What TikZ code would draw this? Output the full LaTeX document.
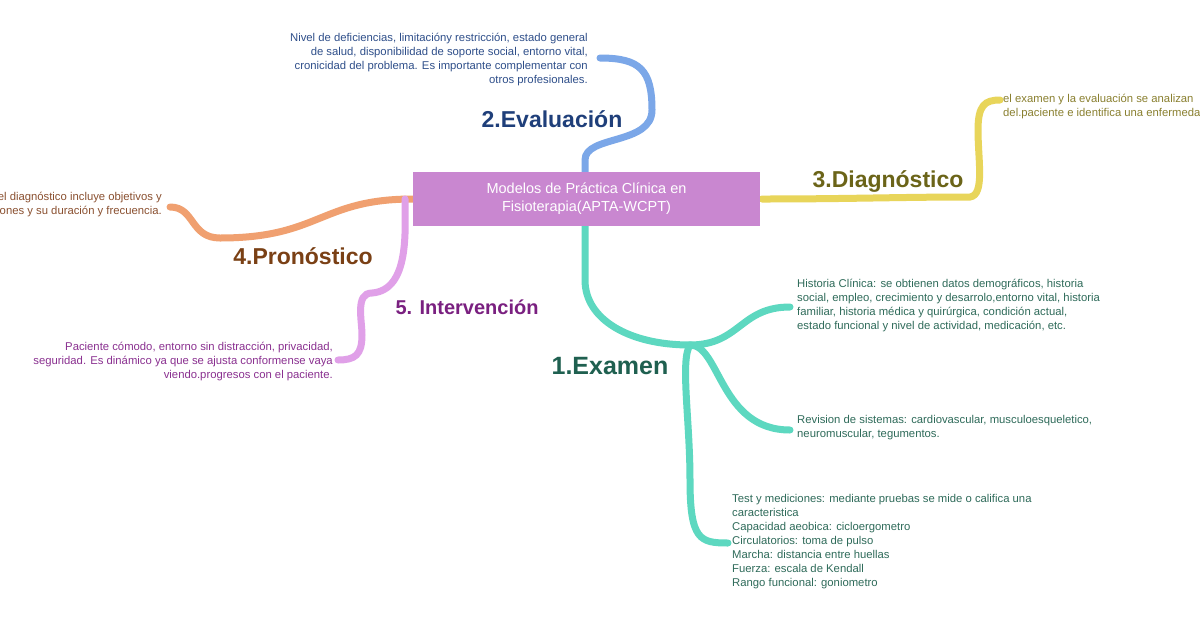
\documentclass[tikz,border=0pt]{standalone}
\usepackage{fontspec}
\setmainfont{Liberation Sans}
\begin{document}
\begin{tikzpicture}[x=1pt,y=-1pt,
  br/.style={line width=7pt,line cap=round},
  small/.style={font=\fontsize{11.3}{14}\selectfont,inner sep=0pt},
  big/.style={font=\fontsize{23}{27}\selectfont\bfseries,inner sep=0pt}]
\definecolor{cbox}{HTML}{C987D0}
\definecolor{cblue}{HTML}{7BA7E8}\definecolor{tblue}{HTML}{1F3F7A}\definecolor{sblue}{HTML}{2F4F8A}
\definecolor{cyel}{HTML}{E8D55A}\definecolor{tyel}{HTML}{6B6418}\definecolor{syel}{HTML}{8A8030}
\definecolor{cora}{HTML}{F0A070}\definecolor{tora}{HTML}{7A4015}\definecolor{sora}{HTML}{8A5030}
\definecolor{cvio}{HTML}{E0A0E8}\definecolor{tvio}{HTML}{7A2080}\definecolor{svio}{HTML}{8A3090}
\definecolor{cteal}{HTML}{5DD8C0}\definecolor{tteal}{HTML}{1F6050}\definecolor{steal}{HTML}{2F6B5A}
\useasboundingbox (0,0) rectangle (1200,630);
\fill[white] (0,0) rectangle (1200,630);
% branches
\coordinate (bt) at (585,172); \coordinate (bb) at (585,226);
\coordinate (bl) at (413,199); \coordinate (br) at (762,199);
\coordinate (ev1) at (652,110); \coordinate (ev2) at (600,58);
\draw[br,cblue] (bt) -- (585,160) .. controls (585,135) and (652,145) .. (ev1) .. controls (652,70) and (640,58) .. (ev2);
\coordinate (dg1) at (970,197); \coordinate (dg2) at (1000,100);
\draw[br,cyel] (br) .. controls (850,199) and (900,197) .. (dg1) .. controls (985,195) and (978,160) .. (978,130) .. controls (978,105) and (985,100) .. (dg2);
\coordinate (pr1) at (220,238); \coordinate (pr2) at (170,207);
\draw[br,cora] (bl) .. controls (320,199) and (320,238) .. (pr1) .. controls (190,238) and (195,207) .. (pr2);
\coordinate (iv1) at (372,293); \coordinate (iv2) at (338,360);
\draw[br,cvio] (405,199) .. controls (405,230) and (410,290) .. (iv1) .. controls (355,293) and (362,320) .. (362,335) .. controls (362,355) and (355,360) .. (iv2);
\coordinate (hub) at (690,345);
\coordinate (h1) at (790,307); \coordinate (h2) at (790,430); \coordinate (h3) at (728,543);
\draw[br,cteal] (bb) -- (585,280) .. controls (585,320) and (630,345) .. (hub);
\draw[br,cteal] (hub) .. controls (740,345) and (740,307) .. (h1);
\draw[br,cteal] (hub) .. controls (720,345) and (720,430) .. (h2);
\draw[br,cteal] (hub) .. controls (680,360) and (690,420) .. (690,480) .. controls (690,540) and (700,543) .. (h3);
% central box
\node[fill=cbox,minimum width=347pt,minimum height=54pt,text=white,align=center,font=\fontsize{14.5}{18}\selectfont] (c) at (586.5,199) {Modelos de Práctica Clínica en\\Fisioterapia(APTA-WCPT)};
% labels
\node[big,text=tblue] (lev) at (552,119) {2.Evaluación};
\node[big,text=tyel] (ldg) at (888,181) {3.Diagnóstico};
\node[big,text=tora] (lpr) at (303,256) {4.Pronóstico};
\node[big,text=tvio,font=\fontsize{20}{24}\selectfont\bfseries] (liv) at (467,307) {5. Intervención};
\node[big,text=tteal,font=\fontsize{25}{29}\selectfont\bfseries] (lex) at (610,366) {1.Examen};
% texts
\node[small,text=sblue,align=right,anchor=north east] (tev) at (588,33) {Nivel de deficiencias, limitacióny restricción, estado general\\de salud, disponibilidad de soporte social, entorno vital,\\cronicidad del problema. Es importante complementar con\\otros profesionales.};
\node[small,text=syel,align=left,anchor=north west] (tdg) at (1003,94) {el examen y la evaluación se analizan\\del.paciente e identifica una enfermedad};
\node[small,text=sora,align=right,anchor=north east] (tpr) at (162,192) {El pronóstico del diagnóstico incluye objetivos y\\intervenciones y su duración y frecuencia.};
\node[small,text=svio,align=right,anchor=north east] (tiv) at (333,342) {Paciente cómodo, entorno sin distracción, privacidad,\\seguridad. Es dinámico ya que se ajusta conformense vaya\\viendo.progresos con el paciente.};
\node[small,text=steal,align=left,anchor=north west] (th1) at (797,279) {Historia Clínica: se obtienen datos demográficos, historia\\social, empleo, crecimiento y desarrolo,entorno vital, historia\\familiar, historia médica y quirúrgica, condición actual,\\estado funcional y nivel de actividad, medicación, etc.};
\node[small,text=steal,align=left,anchor=north west] (th2) at (797,415) {Revision de sistemas: cardiovascular, musculoesqueletico,\\neuromuscular, tegumentos.};
\node[small,text=steal,align=left,anchor=north west] (th3) at (732,494) {Test y mediciones: mediante pruebas se mide o califica una\\caracteristica\\Capacidad aeobica: cicloergometro\\Circulatorios: toma de pulso\\Marcha: distancia entre huellas\\Fuerza: escala de Kendall\\Rango funcional: goniometro};
\end{tikzpicture}
\end{document}
